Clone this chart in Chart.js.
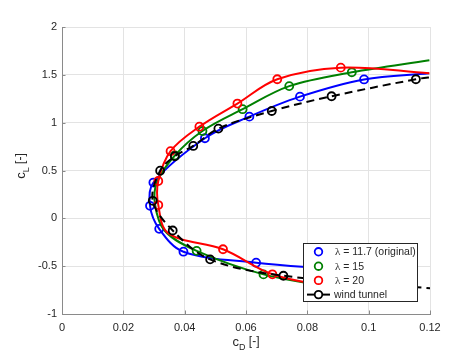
<!DOCTYPE html>
<html>
<head>
<meta charset="utf-8">
<script src="https://cdn.jsdelivr.net/npm/chart.js@4/dist/chart.umd.min.js"></script>
<style>
html,body{margin:0;padding:0;background:#fff;}
#wrap{position:relative;width:474px;height:355px;}
</style>
</head>
<body>
<div id="wrap"><canvas id="c" width="474" height="355"></canvas></div>
<script>
// ---- data (cD, cL), ordered from the negative-lift branch upward ----
const seriesLabels = ['λ = 11.7 (original)', 'λ = 15', 'λ = 20', 'wind tunnel'];

const blueCd = [0.088, 0.0633, 0.0396, 0.0317, 0.0287, 0.0298, 0.0466, 0.0611, 0.0776, 0.0985, 0.1197];
const blueCl = [-0.53, -0.464, -0.349, -0.110, 0.131, 0.374, 0.837, 1.063, 1.272, 1.452, 1.517];
const blueNoMarker = [0, 10];

const greenCd = [0.088, 0.0657, 0.0439, 0.0335, 0.0303, 0.0310, 0.0368, 0.0458, 0.0589, 0.0741, 0.0945, 0.1198];
const greenCl = [-0.72, -0.586, -0.340, -0.130, 0.150, 0.380, 0.657, 0.913, 1.141, 1.382, 1.527, 1.653];
const greenNoMarker = [0, 3, 4, 5, 11];

const redCd = [0.088, 0.0686, 0.0525, 0.0347, 0.0314, 0.0314, 0.0354, 0.0448, 0.0572, 0.0702, 0.0909, 0.1198];
const redCl = [-0.72, -0.585, -0.323, -0.157, 0.139, 0.390, 0.702, 0.958, 1.200, 1.454, 1.575, 1.517];
const redNoMarker = [0, 3, 11];

const tunnelCd = [0.1215, 0.0722, 0.0483, 0.0361, 0.0296, 0.0320, 0.0368, 0.0428, 0.0510, 0.0684, 0.0879, 0.1154, 0.1215];
const tunnelCl = [-0.735, -0.600, -0.429, -0.127, 0.183, 0.498, 0.649, 0.757, 0.938, 1.122, 1.276, 1.454, 1.480];
const tunnelNoMarker = [0, 12];

const xTicks = [0, 0.02, 0.04, 0.06, 0.08, 0.1, 0.12];
const yTicks = [-1, -0.5, 0, 0.5, 1, 1.5, 2];

// ---- helpers ----
const pts = (xs, ys) => xs.map((x, i) => ({x: x, y: ys[i]}));
const radiusFn = hidden => ctx => hidden.includes(ctx.dataIndex) ? 0 : 4;

function mkSet(label, xs, ys, hidden, color, order, dash) {
  return {
    label: label,
    data: pts(xs, ys),
    borderColor: color,
    backgroundColor: 'rgba(0,0,0,0)',
    borderWidth: 2,
    borderDash: dash || [],
    tension: 0.35,
    pointRadius: radiusFn(hidden),
    pointHoverRadius: radiusFn(hidden),
    pointBorderColor: color,
    pointBackgroundColor: 'rgba(0,0,0,0)',
    pointBorderWidth: 1.8,
    pointStyle: 'circle',
    showLine: true,
    fill: false,
    order: order
  };
}

const COLORS = ['#0000ff', '#008000', '#ff0000', '#000000'];
const AX = '#262626';
const AXLINE = '#8a8a8a';
const SANS = '"Liberation Sans", Arial, Helvetica, sans-serif';
const SERIF = '"Liberation Serif", "Times New Roman", serif';

const fmt = v => String(parseFloat(Number(v).toFixed(4)));

const decorPlugin = {
  id: 'decor',
  afterDraw(chart) {
    const ctx = chart.ctx;
    const ca = chart.chartArea;
    const xs = chart.scales.x, ys = chart.scales.y;
    ctx.save();
    // inward ticks
    ctx.strokeStyle = AXLINE;
    ctx.lineWidth = 1;
    ctx.beginPath();
    xTicks.forEach(t => {
      const px = Math.round(xs.getPixelForValue(t)) + 0.5;
      ctx.moveTo(px, ca.bottom); ctx.lineTo(px, ca.bottom - 3.5);
    });
    yTicks.forEach(t => {
      const py = Math.round(ys.getPixelForValue(t)) + 0.5;
      ctx.moveTo(ca.left, py); ctx.lineTo(ca.left + 3.5, py);
    });
    ctx.stroke();

    // axis titles with subscripts
    function subLabel(main, sub, rest) {
      ctx.font = '13px ' + SANS;
      const w1 = ctx.measureText(main).width;
      ctx.font = '9px ' + SANS;
      const w2 = ctx.measureText(sub).width;
      ctx.font = '12px ' + SANS;
      const w3 = ctx.measureText(rest).width;
      const total = w1 + w2 + w3;
      let x = -total / 2;
      ctx.fillStyle = AX;
      ctx.textBaseline = 'alphabetic';
      ctx.textAlign = 'left';
      ctx.font = '13px ' + SANS;
      ctx.fillText(main, x, 0); x += w1;
      ctx.font = '9px ' + SANS;
      ctx.fillText(sub, x, 4); x += w2;
      ctx.font = '12px ' + SANS;
      ctx.fillText(rest, x, -1);
    }
    ctx.save();
    ctx.translate((ca.left + ca.right) / 2, 346);
    subLabel('c', 'D', ' [-]');
    ctx.restore();
    ctx.save();
    ctx.translate(25, 166);
    ctx.rotate(-Math.PI / 2);
    subLabel('c', 'L', ' [-]');
    ctx.restore();

    // legend box
    const lx = 303.5, ly = 243.5, lw = 114, lh = 58;
    ctx.fillStyle = '#ffffff';
    ctx.fillRect(lx, ly, lw, lh);
    ctx.strokeStyle = AX;
    ctx.lineWidth = 1;
    ctx.strokeRect(lx, ly, lw, lh);
    const rows = [251.8, 266.2, 280.4, 294.6];
    chart.data.datasets.forEach((ds, i) => {
      const y = rows[i];
      const col = COLORS[i];
      ctx.strokeStyle = col;
      if (i === 3) {
        ctx.lineWidth = 2;
        ctx.beginPath();
        ctx.moveTo(307, y); ctx.lineTo(330, y);
        ctx.stroke();
      }
      ctx.lineWidth = 1.8;
      ctx.beginPath();
      ctx.arc(318.5, y, 3.8, 0, Math.PI * 2);
      if (i === 3) { ctx.fillStyle = '#fff'; ctx.fill(); }
      ctx.stroke();
      ctx.fillStyle = AX;
      ctx.textBaseline = 'middle';
      ctx.textAlign = 'left';
      let x = i === 3 ? 334 : 335;
      let txt = ds.label;
      if (txt.startsWith('λ')) {
        ctx.font = '11px ' + SERIF;
        ctx.fillText('λ', x, y + 0.5);
        x += ctx.measureText('λ').width;
        txt = txt.slice(1);
      }
      ctx.font = '10.5px ' + SANS;
      ctx.fillText(txt, x, y + 0.5);
    });
    ctx.restore();
  }
};

new Chart(document.getElementById('c'), {
  type: 'scatter',
  data: {
    datasets: [
      mkSet(seriesLabels[0], blueCd, blueCl, blueNoMarker, COLORS[0], 3),
      mkSet(seriesLabels[1], greenCd, greenCl, greenNoMarker, COLORS[1], 2),
      mkSet(seriesLabels[2], redCd, redCl, redNoMarker, COLORS[2], 1),
      mkSet(seriesLabels[3], tunnelCd, tunnelCl, tunnelNoMarker, COLORS[3], 0, [8, 5])
    ]
  },
  options: {
    responsive: false,
    animation: false,
    events: [],
    layout: {padding: {top: 27, right: 44, left: 0, bottom: 0}},
    plugins: {legend: {display: false}, tooltip: {enabled: false}, title: {display: false}},
    scales: {
      x: {
        type: 'linear', min: 0, max: 0.12,
        afterBuildTicks: s => { s.ticks = xTicks.map(v => ({value: v})); },
        afterFit: s => { s.height = 41; },
        grid: {color: '#e3e3e3', drawTicks: false, lineWidth: 1},
        border: {display: true, color: AXLINE, width: 1},
        ticks: {padding: 7, color: AX, font: {family: SANS, size: 11}, callback: v => fmt(v), maxRotation: 0}
      },
      y: {
        type: 'linear', min: -1, max: 2,
        afterBuildTicks: s => { s.ticks = yTicks.map(v => ({value: v})); },
        afterFit: s => { s.width = 62; },
        grid: {color: '#e3e3e3', drawTicks: false, lineWidth: 1},
        border: {display: true, color: AXLINE, width: 1},
        ticks: {padding: 5, color: AX, font: {family: SANS, size: 11}, callback: v => fmt(v)}
      }
    }
  },
  plugins: [decorPlugin]
});
</script>
</body>
</html>
